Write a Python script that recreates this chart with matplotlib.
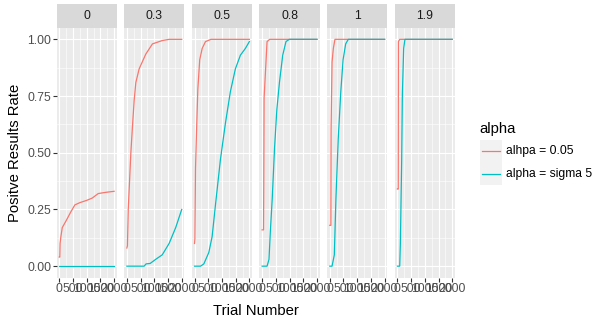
import matplotlib
matplotlib.use('Agg')
import matplotlib.pyplot as plt
from matplotlib.patches import Rectangle
from matplotlib.lines import Line2D

plt.rcParams['font.family'] = ['Liberation Sans', 'DejaVu Sans']

panels = ['0', '0.3', '0.5', '0.8', '1', '1.9']
series_labels = ['alhpa = 0.05', 'alpha = sigma 5']

red_trials = [
    [0, 20, 30, 60, 110, 250, 425, 570, 750, 1000, 1200, 1420, 1670, 2000],
    [0, 20, 50, 145, 206, 265, 327, 448, 690, 933, 1300, 1540, 2000],
    [0, 15, 36, 73, 121, 190, 280, 400, 600, 2000],
    [0, 50, 60, 71, 131, 179, 274, 2000],
    [0, 40, 47, 83, 130, 189, 2000],
    [0, 30, 36, 84, 2000],
]
red_rates = [
    [0.04, 0.04, 0.10, 0.13, 0.17, 0.20, 0.24, 0.27, 0.28, 0.29, 0.30, 0.32, 0.325, 0.33],
    [0.08, 0.09, 0.25, 0.50, 0.62, 0.73, 0.81, 0.87, 0.935, 0.98, 0.995, 1.0, 1.0],
    [0.10, 0.12, 0.43, 0.59, 0.78, 0.91, 0.96, 0.99, 1.0, 1.0],
    [0.16, 0.16, 0.37, 0.74, 0.88, 0.99, 1.0, 1.0],
    [0.18, 0.18, 0.60, 0.90, 0.96, 1.0, 1.0],
    [0.34, 0.34, 0.99, 1.0, 1.0],
]
cyan_trials = [
    [0, 2000],
    [0, 630, 700, 850, 1050, 1290, 1540, 1780, 2000],
    [0, 220, 340, 521, 642, 764, 945, 1127, 1309, 1491, 1673, 1855, 2000],
    [0, 179, 250, 298, 369, 452, 536, 631, 750, 869, 988, 2000],
    [0, 83, 166, 225, 308, 402, 485, 580, 675, 2000],
    [0, 84, 108, 156, 180, 228, 275, 2000],
]
cyan_rates = [
    [0, 0],
    [0, 0, 0.01, 0.012, 0.03, 0.05, 0.10, 0.17, 0.25],
    [0, 0, 0.01, 0.06, 0.13, 0.27, 0.47, 0.63, 0.77, 0.87, 0.93, 0.96, 0.99],
    [0, 0, 0.03, 0.15, 0.30, 0.52, 0.69, 0.81, 0.93, 0.99, 1.0, 1.0],
    [0, 0, 0.05, 0.30, 0.56, 0.77, 0.91, 0.98, 1.0, 1.0],
    [0, 0, 0.10, 0.47, 0.75, 0.96, 1.0, 1.0],
]

RED = '#F8766D'
CYAN = '#00BFC4'

W, H = 609, 319
fig = plt.figure(figsize=(W / 100, H / 100), dpi=100)

left, right = 56.5, 455
top, bottom = 28, 277.5
gap = 7.3
pw = (right - left - 5 * gap) / 6
strip_h = 24
small = 8.7
big = 10.7

for i, name in enumerate(panels):
    x0 = left + i * (pw + gap)
    ax = fig.add_axes([x0 / W, 1 - bottom / H, pw / W, (bottom - top) / H])
    ax.set_facecolor('#EBEBEB')
    ax.set_xlim(-100, 2100)
    ax.set_ylim(-0.05, 1.05)
    ax.set_xticks([0, 500, 1000, 1500, 2000])
    ax.set_xticklabels(['0', '500', '1000', '1500', '2000'])
    ax.set_xticks([250, 750, 1250, 1750], minor=True)
    ax.set_yticks([0, 0.25, 0.5, 0.75, 1.0])
    ax.set_yticklabels(['0.00', '0.25', '0.50', '0.75', '1.00'])
    ax.set_yticks([0.125, 0.375, 0.625, 0.875], minor=True)
    ax.grid(which='major', color='white', lw=0.8)
    ax.grid(which='minor', color='white', lw=0.4)
    ax.set_axisbelow(True)
    ax.tick_params(which='minor', length=0)
    ax.tick_params(which='major', length=2.7, width=0.8, color='#333333',
                   labelsize=small, labelcolor='#4D4D4D', pad=1.2)
    for s in ax.spines.values():
        s.set_visible(False)
    if i > 0:
        ax.tick_params(axis='y', left=False, labelleft=False)
    ax.plot(red_trials[i], red_rates[i], color=RED, lw=0.9)
    ax.plot(cyan_trials[i], cyan_rates[i], color=CYAN, lw=0.9)

    # facet strip
    fig.add_artist(Rectangle((x0 / W, 1 - top / H), pw / W, strip_h / H,
                             transform=fig.transFigure, color='#D9D9D9', lw=0))
    fig.text((x0 + pw / 2) / W, 1 - (top - strip_h / 2) / H, name,
             ha='center', va='center', fontsize=small, color='#1A1A1A')

fig.text((left + right) / 2 / W, 1 - 311 / H, 'Trial Number',
         ha='center', va='center', fontsize=big)
fig.text(15 / W, 1 - (top + bottom) / 2 / H, 'Positve Results Rate',
         ha='center', va='center', rotation=90, fontsize=big)

# legend
fig.text(479 / W, 1 - 129 / H, 'alpha', ha='left', va='center', fontsize=big)
key_top = [140, 162.5]
for j, (lab, col) in enumerate(zip(series_labels, [RED, CYAN])):
    yt = key_top[j]
    fig.add_artist(Rectangle((480 / W, 1 - (yt + 22.5) / H), 21.7 / W, 22.5 / H,
                             transform=fig.transFigure, color='#F2F2F2', lw=0))
    yc = 1 - (yt + 11.3) / H
    fig.add_artist(Line2D([481.5 / W, 499.5 / W], [yc, yc],
                          transform=fig.transFigure, color=col, lw=0.9))
    fig.text(505.7 / W, yc, lab, ha='left', va='center', fontsize=small)

fig.savefig('out.png', dpi=100, facecolor='white')
